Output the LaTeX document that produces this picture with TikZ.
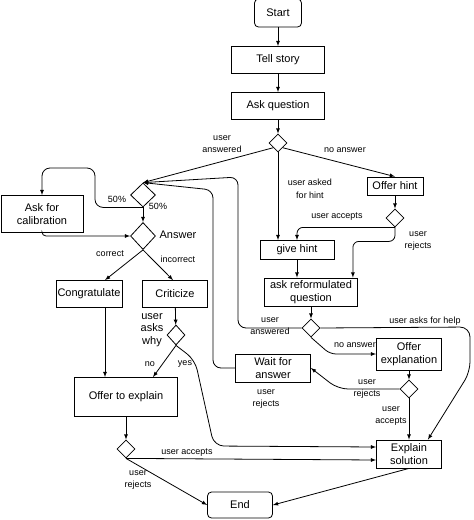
\documentclass[tikz,border=0pt]{standalone}
\usepackage{fontspec}
\setmainfont{Liberation Sans}
\usetikzlibrary{shapes.geometric}

\begin{document}
\begin{tikzpicture}[x=1pt, y=-1pt, >=latex, line width=0.8pt,
		box/.style = {draw, rectangle, inner sep=0pt, align=center, font=\fontsize{11}{12.5}\selectfont},
		term/.style = {box, rounded corners=4pt},
		dec/.style = {draw, diamond, inner sep=0pt, minimum width=18pt, minimum height=18pt},
		lab/.style = {align=center, font=\fontsize{9}{12.5}\selectfont}]
		\useasboundingbox (0,0) rectangle (474,520);
		\node[term, minimum width=47pt, minimum height=28pt] (start) at (278,13) {Start};
		\node[box, minimum width=93pt, minimum height=27pt] (tell) at (278,60) {Tell story};
		\node[box, minimum width=93pt, minimum height=27pt] (ask) at (278,106) {Ask question};
		\node[dec] (d1) at (278,143) {};
		\node[box, minimum width=56pt, minimum height=18pt] (hint) at (395,186) {Offer hint};
		\node[dec] (dhint) at (395,218) {};
		\node[box, minimum width=74pt, minimum height=19pt] (givehint) at (297,250) {give hint};
		\node[box, minimum width=93pt, minimum height=28pt] (reform) at (311,292) {ask reformulated\\question};
		\node[dec] (d3) at (311,328) {};
		\node[box, minimum width=65pt, minimum height=32pt] (offerexp) at (409,354) {Offer\\explanation};
		\node[dec] (d4) at (409,389) {};
		\node[box, minimum width=75pt, minimum height=28pt] (wait) at (273,368) {Wait for\\answer};
		\node[box, minimum width=65pt, minimum height=28pt] (explain) at (409,454) {Explain\\solution};
		\node[term, minimum width=65pt, minimum height=26pt] (endn) at (240,505) {End};
		\node[dec, minimum width=25pt, minimum height=24pt] (d2) at (143,195) {};
		\node[box, minimum width=82pt, minimum height=37pt] (calib) at (42,214) {Ask for\\calibration};
		\node[dec, minimum width=25pt, minimum height=27pt] (answer) at (143,236) {};
		\node[box, minimum width=66pt, minimum height=27pt] (congr) at (89,294) {Congratulate};
		\node[box, minimum width=65pt, minimum height=27pt] (critic) at (175,294) {Criticize};
		\node[dec, minimum height=20pt] (d5) at (176,335) {};
		\node[box, minimum width=103pt, minimum height=39pt] (offerto) at (126,397) {Offer to explain};
		\node[dec] (d6) at (126,449) {};
		% labels
		\node[lab] (l1) at (222,144) {user\\answered};
		\node[lab] (l2) at (345,150) {no answer};
		\node[lab] (l3) at (310,189) {user asked\\for hint};
		\node[lab] (l4) at (337,217) {user accepts};
		\node[lab] (l5) at (418,241) {user\\rejects};
		\node[lab] (l6) at (270,326) {user\\answered};
		\node[lab] (l7) at (425,321) {user asks for help};
		\node[lab] (l8) at (355,345) {no answer};
		\node[lab] (l9) at (367,389) {user\\rejects};
		\node[lab] (l10) at (391,416) {user\\accepts};
		\node[lab] (l11) at (266,399) {user\\rejects};
		\node[lab] (l12) at (117,199) {50\%};
		\node[lab] (l13) at (158,206) {50\%};
		\node[font=\fontsize{11}{12.5}\selectfont] (l14) at (178,235) {Answer};
		\node[lab] (l15) at (110,254) {correct};
		\node[lab] (l16) at (178,259) {incorrect};
		\node[box, draw=none, align=center] (l17) at (152,330) {user\\asks\\why};
		\node[lab] (l18) at (150,364) {no};
		\node[lab] (l19) at (185,364) {yes};
		\node[lab] (l20) at (187,453) {user accepts};
		\node[lab] (l21) at (138,480) {user\\rejects};
		% connectors
		\draw[->] (start) -- (tell);
		\draw[->] (tell) -- (ask);
		\draw[->] (ask) -- (d1);
		\draw[->] (d1.south west) -- (d2.north);
		\draw[->] (d1.south east) -- (hint.north);
		\draw[->] (d1.south) -- (d1.south |- givehint.north);
		\draw[->] (hint) -- (dhint);
		\draw[->, rounded corners=6] (dhint.south) -| (givehint.north);
		\draw[->, rounded corners=6] (dhint.south) -- ++(0,14) -| ([xshift=-5pt]reform.north east);
		\draw[->] (givehint.south) -- (givehint.south |- reform.north);
		\draw[->] (reform) -- (d3);
		\draw[->, rounded corners=8] (d3.west) -| (238,177) -- (d2.north);
		\draw[->, rounded corners=8] (wait.west) -| (213,190) -- (d2.north);
		\draw[->, rounded corners=10] (d3.east) -- (470,327) -- (470,372) -- ([xshift=-14pt]explain.north east);
		\draw[->, rounded corners=6] (d3.south) -- (330,354) -- (offerexp.west);
		\draw[->] (offerexp) -- (d4);
		\draw[->, rounded corners=10] (d4.west) -- (338,389) -- (wait.east);
		\draw[->] (d4.south) -- (d4.south |- explain.north);
		\draw[->] (explain.south) -- (endn.east);
		\draw[->, rounded corners=8] (d2.south) -| (95,168) -| (calib.north);
		\draw[->] (d2.south) -- (answer.north);
		\draw[->, rounded corners=4] (calib.south) |- (answer.west);
		\draw[->] (answer.south) -- ([xshift=16pt]congr.north);
		\draw[->] (answer.south) -- ([xshift=-2pt]critic.north);
		\draw[->] (critic) -- (d5);
		\draw[->] (d5.south) -- ([xshift=27pt]offerto.north);
		\draw[->, rounded corners=10] (d5.south) -- (195,360) -- (214,446) -- ([yshift=7pt]explain.west);
		\draw[->] ([xshift=16pt]congr.south) -- ([xshift=-21pt]offerto.north);
		\draw[->] (offerto) -- (d6);
		\draw[->] (d6.south) -- ([yshift=-6pt]explain.west);
		\draw[->] (d6.south) -- (endn.west);
	\end{tikzpicture}
\end{document}
